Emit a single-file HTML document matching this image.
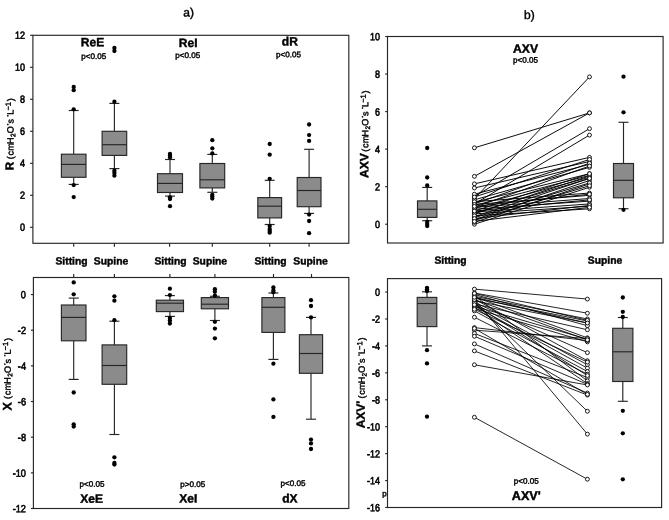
<!DOCTYPE html>
<html><head><meta charset="utf-8"><title>Figure</title>
<style>
html,body{margin:0;padding:0;background:#fff;}
svg{display:block;font-family:"Liberation Sans",sans-serif;fill:#000;}
text{stroke:#000;stroke-width:0.42px;text-rendering:geometricPrecision;}
</style></head><body>
<svg width="669" height="520" viewBox="0 0 669 520">
<rect x="0" y="0" width="669" height="520" fill="#fff"/>
<rect x="32.9" y="35.3" width="315.90000000000003" height="208.0" fill="none" stroke="#262626" stroke-width="1.15"/>
<rect x="33.4" y="277.5" width="315.40000000000003" height="231.0" fill="none" stroke="#262626" stroke-width="1.15"/>
<rect x="387.5" y="36.5" width="275.6" height="206.5" fill="none" stroke="#262626" stroke-width="1.15"/>
<rect x="387.5" y="278.6" width="274.1" height="228.89999999999998" fill="none" stroke="#262626" stroke-width="1.15"/>
<line x1="30.10" y1="227.30" x2="32.90" y2="227.30" stroke="#262626" stroke-width="1.15"/>
<text transform="translate(25.00,230.80) rotate(0.05) scale(0.94,1.08)" font-size="9.6" font-weight="normal" text-anchor="end" style="stroke-width:0.55px">0</text>
<line x1="30.10" y1="195.30" x2="32.90" y2="195.30" stroke="#262626" stroke-width="1.15"/>
<text transform="translate(25.00,198.80) rotate(0.05) scale(0.94,1.08)" font-size="9.6" font-weight="normal" text-anchor="end" style="stroke-width:0.55px">2</text>
<line x1="30.10" y1="163.30" x2="32.90" y2="163.30" stroke="#262626" stroke-width="1.15"/>
<text transform="translate(25.00,166.80) rotate(0.05) scale(0.94,1.08)" font-size="9.6" font-weight="normal" text-anchor="end" style="stroke-width:0.55px">4</text>
<line x1="30.10" y1="131.30" x2="32.90" y2="131.30" stroke="#262626" stroke-width="1.15"/>
<text transform="translate(25.00,134.80) rotate(0.05) scale(0.94,1.08)" font-size="9.6" font-weight="normal" text-anchor="end" style="stroke-width:0.55px">6</text>
<line x1="30.10" y1="99.30" x2="32.90" y2="99.30" stroke="#262626" stroke-width="1.15"/>
<text transform="translate(25.00,102.80) rotate(0.05) scale(0.94,1.08)" font-size="9.6" font-weight="normal" text-anchor="end" style="stroke-width:0.55px">8</text>
<line x1="30.10" y1="67.30" x2="32.90" y2="67.30" stroke="#262626" stroke-width="1.15"/>
<text transform="translate(25.00,70.80) rotate(0.05) scale(0.94,1.08)" font-size="9.6" font-weight="normal" text-anchor="end" style="stroke-width:0.55px">10</text>
<line x1="30.10" y1="35.30" x2="32.90" y2="35.30" stroke="#262626" stroke-width="1.15"/>
<text transform="translate(25.00,38.80) rotate(0.05) scale(0.94,1.08)" font-size="9.6" font-weight="normal" text-anchor="end" style="stroke-width:0.55px">12</text>
<line x1="30.90" y1="294.55" x2="33.40" y2="294.55" stroke="#262626" stroke-width="1.15"/>
<text transform="translate(26.00,298.35) rotate(0.05) scale(0.96,1.08)" font-size="9.6" font-weight="normal" text-anchor="end" style="stroke-width:0.55px">0</text>
<line x1="30.90" y1="330.21" x2="33.40" y2="330.21" stroke="#262626" stroke-width="1.15"/>
<text transform="translate(26.00,334.01) rotate(0.05) scale(0.96,1.08)" font-size="9.6" font-weight="normal" text-anchor="end" style="stroke-width:0.55px">-2</text>
<line x1="30.90" y1="365.87" x2="33.40" y2="365.87" stroke="#262626" stroke-width="1.15"/>
<text transform="translate(26.00,369.67) rotate(0.05) scale(0.96,1.08)" font-size="9.6" font-weight="normal" text-anchor="end" style="stroke-width:0.55px">-4</text>
<line x1="30.90" y1="401.53" x2="33.40" y2="401.53" stroke="#262626" stroke-width="1.15"/>
<text transform="translate(26.00,405.33) rotate(0.05) scale(0.96,1.08)" font-size="9.6" font-weight="normal" text-anchor="end" style="stroke-width:0.55px">-6</text>
<line x1="30.90" y1="437.19" x2="33.40" y2="437.19" stroke="#262626" stroke-width="1.15"/>
<text transform="translate(26.00,440.99) rotate(0.05) scale(0.96,1.08)" font-size="9.6" font-weight="normal" text-anchor="end" style="stroke-width:0.55px">-8</text>
<line x1="30.90" y1="472.85" x2="33.40" y2="472.85" stroke="#262626" stroke-width="1.15"/>
<text transform="translate(26.00,476.65) rotate(0.05) scale(0.96,1.08)" font-size="9.6" font-weight="normal" text-anchor="end" style="stroke-width:0.55px">-10</text>
<line x1="30.90" y1="508.51" x2="33.40" y2="508.51" stroke="#262626" stroke-width="1.15"/>
<text transform="translate(26.00,512.31) rotate(0.05) scale(0.96,1.08)" font-size="9.6" font-weight="normal" text-anchor="end" style="stroke-width:0.55px">-12</text>
<line x1="385.20" y1="224.23" x2="387.50" y2="224.23" stroke="#262626" stroke-width="1.15"/>
<text transform="translate(380.10,228.03) rotate(0.05) scale(0.94,1.08)" font-size="9.6" font-weight="normal" text-anchor="end" style="stroke-width:0.55px">0</text>
<line x1="385.20" y1="186.68" x2="387.50" y2="186.68" stroke="#262626" stroke-width="1.15"/>
<text transform="translate(380.10,190.48) rotate(0.05) scale(0.94,1.08)" font-size="9.6" font-weight="normal" text-anchor="end" style="stroke-width:0.55px">2</text>
<line x1="385.20" y1="149.14" x2="387.50" y2="149.14" stroke="#262626" stroke-width="1.15"/>
<text transform="translate(380.10,152.94) rotate(0.05) scale(0.94,1.08)" font-size="9.6" font-weight="normal" text-anchor="end" style="stroke-width:0.55px">4</text>
<line x1="385.20" y1="111.59" x2="387.50" y2="111.59" stroke="#262626" stroke-width="1.15"/>
<text transform="translate(380.10,115.39) rotate(0.05) scale(0.94,1.08)" font-size="9.6" font-weight="normal" text-anchor="end" style="stroke-width:0.55px">6</text>
<line x1="385.20" y1="74.05" x2="387.50" y2="74.05" stroke="#262626" stroke-width="1.15"/>
<text transform="translate(380.10,77.85) rotate(0.05) scale(0.94,1.08)" font-size="9.6" font-weight="normal" text-anchor="end" style="stroke-width:0.55px">8</text>
<line x1="385.20" y1="36.50" x2="387.50" y2="36.50" stroke="#262626" stroke-width="1.15"/>
<text transform="translate(380.10,40.30) rotate(0.05) scale(0.94,1.08)" font-size="9.6" font-weight="normal" text-anchor="end" style="stroke-width:0.55px">10</text>
<line x1="385.20" y1="292.06" x2="387.50" y2="292.06" stroke="#262626" stroke-width="1.15"/>
<text transform="translate(380.10,295.86) rotate(0.05) scale(0.94,1.08)" font-size="9.6" font-weight="normal" text-anchor="end" style="stroke-width:0.55px">0</text>
<line x1="385.20" y1="318.99" x2="387.50" y2="318.99" stroke="#262626" stroke-width="1.15"/>
<text transform="translate(380.10,322.79) rotate(0.05) scale(0.94,1.08)" font-size="9.6" font-weight="normal" text-anchor="end" style="stroke-width:0.55px">-2</text>
<line x1="385.20" y1="345.92" x2="387.50" y2="345.92" stroke="#262626" stroke-width="1.15"/>
<text transform="translate(380.10,349.72) rotate(0.05) scale(0.94,1.08)" font-size="9.6" font-weight="normal" text-anchor="end" style="stroke-width:0.55px">-4</text>
<line x1="385.20" y1="372.85" x2="387.50" y2="372.85" stroke="#262626" stroke-width="1.15"/>
<text transform="translate(380.10,376.65) rotate(0.05) scale(0.94,1.08)" font-size="9.6" font-weight="normal" text-anchor="end" style="stroke-width:0.55px">-6</text>
<line x1="385.20" y1="399.78" x2="387.50" y2="399.78" stroke="#262626" stroke-width="1.15"/>
<text transform="translate(380.10,403.58) rotate(0.05) scale(0.94,1.08)" font-size="9.6" font-weight="normal" text-anchor="end" style="stroke-width:0.55px">-8</text>
<line x1="385.20" y1="426.71" x2="387.50" y2="426.71" stroke="#262626" stroke-width="1.15"/>
<text transform="translate(380.10,430.51) rotate(0.05) scale(0.94,1.08)" font-size="9.6" font-weight="normal" text-anchor="end" style="stroke-width:0.55px">-10</text>
<line x1="385.20" y1="453.64" x2="387.50" y2="453.64" stroke="#262626" stroke-width="1.15"/>
<text transform="translate(380.10,457.44) rotate(0.05) scale(0.94,1.08)" font-size="9.6" font-weight="normal" text-anchor="end" style="stroke-width:0.55px">-12</text>
<line x1="385.20" y1="480.57" x2="387.50" y2="480.57" stroke="#262626" stroke-width="1.15"/>
<text transform="translate(380.10,484.37) rotate(0.05) scale(0.94,1.08)" font-size="9.6" font-weight="normal" text-anchor="end" style="stroke-width:0.55px">-14</text>
<line x1="385.20" y1="507.50" x2="387.50" y2="507.50" stroke="#262626" stroke-width="1.15"/>
<text transform="translate(380.10,511.30) rotate(0.05) scale(0.94,1.08)" font-size="9.6" font-weight="normal" text-anchor="end" style="stroke-width:0.55px">-16</text>
<line x1="73.70" y1="243.30" x2="73.70" y2="246.80" stroke="#262626" stroke-width="1.15"/>
<line x1="114.40" y1="243.30" x2="114.40" y2="246.80" stroke="#262626" stroke-width="1.15"/>
<line x1="169.60" y1="243.30" x2="169.60" y2="246.80" stroke="#262626" stroke-width="1.15"/>
<line x1="212.30" y1="243.30" x2="212.30" y2="246.80" stroke="#262626" stroke-width="1.15"/>
<line x1="269.70" y1="243.30" x2="269.70" y2="246.80" stroke="#262626" stroke-width="1.15"/>
<line x1="309.10" y1="243.30" x2="309.10" y2="246.80" stroke="#262626" stroke-width="1.15"/>
<line x1="73.70" y1="274.00" x2="73.70" y2="277.50" stroke="#262626" stroke-width="1.15"/>
<line x1="114.40" y1="274.00" x2="114.40" y2="277.50" stroke="#262626" stroke-width="1.15"/>
<line x1="169.90" y1="274.00" x2="169.90" y2="277.50" stroke="#262626" stroke-width="1.15"/>
<line x1="214.90" y1="274.00" x2="214.90" y2="277.50" stroke="#262626" stroke-width="1.15"/>
<line x1="273.50" y1="274.00" x2="273.50" y2="277.50" stroke="#262626" stroke-width="1.15"/>
<line x1="311.50" y1="274.00" x2="311.50" y2="277.50" stroke="#262626" stroke-width="1.15"/>
<line x1="73.70" y1="110.50" x2="73.70" y2="154.20" stroke="#262626" stroke-width="1.15"/>
<line x1="73.70" y1="177.30" x2="73.70" y2="184.40" stroke="#262626" stroke-width="1.15"/>
<line x1="68.70" y1="110.50" x2="78.70" y2="110.50" stroke="#262626" stroke-width="1.15"/>
<line x1="68.70" y1="184.40" x2="78.70" y2="184.40" stroke="#262626" stroke-width="1.15"/>
<rect x="61.40" y="154.20" width="24.60" height="23.10" fill="#8b8b8b" stroke="#262626" stroke-width="1.15"/>
<line x1="61.40" y1="164.40" x2="86.00" y2="164.40" stroke="#262626" stroke-width="1.15"/>
<circle cx="73.70" cy="109.30" r="2.15" fill="#000"/>
<circle cx="73.70" cy="90.20" r="2.15" fill="#000"/>
<circle cx="73.70" cy="86.90" r="2.15" fill="#000"/>
<circle cx="73.70" cy="185.10" r="2.15" fill="#000"/>
<circle cx="73.70" cy="197.10" r="2.15" fill="#000"/>
<line x1="114.40" y1="103.40" x2="114.40" y2="131.30" stroke="#262626" stroke-width="1.15"/>
<line x1="114.40" y1="155.40" x2="114.40" y2="168.60" stroke="#262626" stroke-width="1.15"/>
<line x1="109.40" y1="103.40" x2="119.40" y2="103.40" stroke="#262626" stroke-width="1.15"/>
<line x1="109.40" y1="168.60" x2="119.40" y2="168.60" stroke="#262626" stroke-width="1.15"/>
<rect x="102.10" y="131.30" width="24.60" height="24.10" fill="#8b8b8b" stroke="#262626" stroke-width="1.15"/>
<line x1="102.10" y1="144.70" x2="126.70" y2="144.70" stroke="#262626" stroke-width="1.15"/>
<circle cx="114.40" cy="101.70" r="2.15" fill="#000"/>
<circle cx="114.40" cy="51.00" r="2.15" fill="#000"/>
<circle cx="114.40" cy="48.00" r="2.15" fill="#000"/>
<circle cx="114.40" cy="170.70" r="2.15" fill="#000"/>
<circle cx="114.40" cy="173.00" r="2.15" fill="#000"/>
<circle cx="114.40" cy="175.70" r="2.15" fill="#000"/>
<line x1="170.00" y1="159.50" x2="170.00" y2="173.70" stroke="#262626" stroke-width="1.15"/>
<line x1="170.00" y1="192.50" x2="170.00" y2="196.10" stroke="#262626" stroke-width="1.15"/>
<line x1="165.00" y1="159.50" x2="175.00" y2="159.50" stroke="#262626" stroke-width="1.15"/>
<line x1="165.00" y1="196.10" x2="175.00" y2="196.10" stroke="#262626" stroke-width="1.15"/>
<rect x="157.50" y="173.70" width="25.00" height="18.80" fill="#8b8b8b" stroke="#262626" stroke-width="1.15"/>
<line x1="157.50" y1="183.40" x2="182.50" y2="183.40" stroke="#262626" stroke-width="1.15"/>
<circle cx="170.00" cy="157.50" r="2.15" fill="#000"/>
<circle cx="170.00" cy="155.60" r="2.15" fill="#000"/>
<circle cx="170.00" cy="154.00" r="2.15" fill="#000"/>
<circle cx="170.00" cy="197.30" r="2.15" fill="#000"/>
<circle cx="170.00" cy="199.10" r="2.15" fill="#000"/>
<circle cx="170.00" cy="206.20" r="2.15" fill="#000"/>
<line x1="212.30" y1="154.40" x2="212.30" y2="163.50" stroke="#262626" stroke-width="1.15"/>
<line x1="212.30" y1="187.90" x2="212.30" y2="192.30" stroke="#262626" stroke-width="1.15"/>
<line x1="207.30" y1="154.40" x2="217.30" y2="154.40" stroke="#262626" stroke-width="1.15"/>
<line x1="207.30" y1="192.30" x2="217.30" y2="192.30" stroke="#262626" stroke-width="1.15"/>
<rect x="199.90" y="163.50" width="24.80" height="24.40" fill="#8b8b8b" stroke="#262626" stroke-width="1.15"/>
<line x1="199.90" y1="179.80" x2="224.70" y2="179.80" stroke="#262626" stroke-width="1.15"/>
<circle cx="212.30" cy="153.40" r="2.15" fill="#000"/>
<circle cx="212.30" cy="148.30" r="2.15" fill="#000"/>
<circle cx="212.30" cy="140.20" r="2.15" fill="#000"/>
<circle cx="212.30" cy="194.80" r="2.15" fill="#000"/>
<circle cx="212.30" cy="196.60" r="2.15" fill="#000"/>
<circle cx="212.30" cy="198.60" r="2.15" fill="#000"/>
<line x1="269.70" y1="180.30" x2="269.70" y2="197.60" stroke="#262626" stroke-width="1.15"/>
<line x1="269.70" y1="217.90" x2="269.70" y2="224.50" stroke="#262626" stroke-width="1.15"/>
<line x1="264.70" y1="180.30" x2="274.70" y2="180.30" stroke="#262626" stroke-width="1.15"/>
<line x1="264.70" y1="224.50" x2="274.70" y2="224.50" stroke="#262626" stroke-width="1.15"/>
<rect x="257.80" y="197.60" width="23.80" height="20.30" fill="#8b8b8b" stroke="#262626" stroke-width="1.15"/>
<line x1="257.80" y1="206.20" x2="281.60" y2="206.20" stroke="#262626" stroke-width="1.15"/>
<circle cx="269.70" cy="178.80" r="2.15" fill="#000"/>
<circle cx="269.70" cy="154.70" r="2.15" fill="#000"/>
<circle cx="269.70" cy="144.00" r="2.15" fill="#000"/>
<circle cx="269.70" cy="226.00" r="2.15" fill="#000"/>
<circle cx="269.70" cy="229.10" r="2.15" fill="#000"/>
<circle cx="269.70" cy="230.90" r="2.15" fill="#000"/>
<circle cx="269.70" cy="232.70" r="2.15" fill="#000"/>
<line x1="309.10" y1="149.30" x2="309.10" y2="177.50" stroke="#262626" stroke-width="1.15"/>
<line x1="309.10" y1="206.70" x2="309.10" y2="213.40" stroke="#262626" stroke-width="1.15"/>
<line x1="304.10" y1="149.30" x2="314.10" y2="149.30" stroke="#262626" stroke-width="1.15"/>
<line x1="304.10" y1="213.40" x2="314.10" y2="213.40" stroke="#262626" stroke-width="1.15"/>
<rect x="297.20" y="177.50" width="23.80" height="29.20" fill="#8b8b8b" stroke="#262626" stroke-width="1.15"/>
<line x1="297.20" y1="190.50" x2="321.00" y2="190.50" stroke="#262626" stroke-width="1.15"/>
<circle cx="309.10" cy="140.90" r="2.15" fill="#000"/>
<circle cx="309.10" cy="135.10" r="2.15" fill="#000"/>
<circle cx="309.10" cy="124.50" r="2.15" fill="#000"/>
<circle cx="309.10" cy="214.60" r="2.15" fill="#000"/>
<circle cx="309.10" cy="221.00" r="2.15" fill="#000"/>
<circle cx="309.10" cy="233.20" r="2.15" fill="#000"/>
<line x1="73.70" y1="298.10" x2="73.70" y2="305.00" stroke="#262626" stroke-width="1.15"/>
<line x1="73.70" y1="340.80" x2="73.70" y2="379.40" stroke="#262626" stroke-width="1.15"/>
<line x1="68.70" y1="298.10" x2="78.70" y2="298.10" stroke="#262626" stroke-width="1.15"/>
<line x1="68.70" y1="379.40" x2="78.70" y2="379.40" stroke="#262626" stroke-width="1.15"/>
<rect x="61.40" y="305.00" width="24.60" height="35.80" fill="#8b8b8b" stroke="#262626" stroke-width="1.15"/>
<line x1="61.40" y1="317.40" x2="86.00" y2="317.40" stroke="#262626" stroke-width="1.15"/>
<circle cx="73.70" cy="294.30" r="2.15" fill="#000"/>
<circle cx="73.70" cy="282.40" r="2.15" fill="#000"/>
<circle cx="73.70" cy="392.50" r="2.15" fill="#000"/>
<circle cx="73.70" cy="424.30" r="2.15" fill="#000"/>
<circle cx="73.70" cy="426.60" r="2.15" fill="#000"/>
<line x1="114.40" y1="321.20" x2="114.40" y2="344.90" stroke="#262626" stroke-width="1.15"/>
<line x1="114.40" y1="384.30" x2="114.40" y2="434.50" stroke="#262626" stroke-width="1.15"/>
<line x1="109.40" y1="321.20" x2="119.40" y2="321.20" stroke="#262626" stroke-width="1.15"/>
<line x1="109.40" y1="434.50" x2="119.40" y2="434.50" stroke="#262626" stroke-width="1.15"/>
<rect x="102.10" y="344.90" width="24.60" height="39.40" fill="#8b8b8b" stroke="#262626" stroke-width="1.15"/>
<line x1="102.10" y1="365.50" x2="126.70" y2="365.50" stroke="#262626" stroke-width="1.15"/>
<circle cx="114.40" cy="320.20" r="2.15" fill="#000"/>
<circle cx="114.40" cy="300.70" r="2.15" fill="#000"/>
<circle cx="114.40" cy="296.30" r="2.15" fill="#000"/>
<circle cx="114.40" cy="457.30" r="2.15" fill="#000"/>
<circle cx="114.40" cy="462.90" r="2.15" fill="#000"/>
<circle cx="114.40" cy="464.50" r="2.15" fill="#000"/>
<line x1="169.90" y1="295.60" x2="169.90" y2="300.20" stroke="#262626" stroke-width="1.15"/>
<line x1="169.90" y1="311.60" x2="169.90" y2="316.40" stroke="#262626" stroke-width="1.15"/>
<line x1="164.90" y1="295.60" x2="174.90" y2="295.60" stroke="#262626" stroke-width="1.15"/>
<line x1="164.90" y1="316.40" x2="174.90" y2="316.40" stroke="#262626" stroke-width="1.15"/>
<rect x="156.30" y="300.20" width="27.20" height="11.40" fill="#8b8b8b" stroke="#262626" stroke-width="1.15"/>
<line x1="156.30" y1="303.20" x2="183.50" y2="303.20" stroke="#262626" stroke-width="1.15"/>
<circle cx="169.90" cy="295.10" r="2.15" fill="#000"/>
<circle cx="169.90" cy="288.70" r="2.15" fill="#000"/>
<circle cx="169.90" cy="317.90" r="2.15" fill="#000"/>
<circle cx="169.90" cy="320.50" r="2.15" fill="#000"/>
<circle cx="169.90" cy="323.50" r="2.15" fill="#000"/>
<line x1="214.90" y1="296.30" x2="214.90" y2="297.60" stroke="#262626" stroke-width="1.15"/>
<line x1="214.90" y1="308.80" x2="214.90" y2="320.50" stroke="#262626" stroke-width="1.15"/>
<line x1="209.90" y1="296.30" x2="219.90" y2="296.30" stroke="#262626" stroke-width="1.15"/>
<line x1="209.90" y1="320.50" x2="219.90" y2="320.50" stroke="#262626" stroke-width="1.15"/>
<rect x="201.30" y="297.60" width="27.20" height="11.20" fill="#8b8b8b" stroke="#262626" stroke-width="1.15"/>
<line x1="201.30" y1="304.20" x2="228.50" y2="304.20" stroke="#262626" stroke-width="1.15"/>
<circle cx="214.90" cy="295.60" r="2.15" fill="#000"/>
<circle cx="214.90" cy="291.80" r="2.15" fill="#000"/>
<circle cx="214.90" cy="289.20" r="2.15" fill="#000"/>
<circle cx="214.90" cy="321.80" r="2.15" fill="#000"/>
<circle cx="214.90" cy="328.60" r="2.15" fill="#000"/>
<circle cx="214.90" cy="338.30" r="2.15" fill="#000"/>
<line x1="273.40" y1="293.00" x2="273.40" y2="297.60" stroke="#262626" stroke-width="1.15"/>
<line x1="273.40" y1="332.40" x2="273.40" y2="359.40" stroke="#262626" stroke-width="1.15"/>
<line x1="268.40" y1="293.00" x2="278.40" y2="293.00" stroke="#262626" stroke-width="1.15"/>
<line x1="268.40" y1="359.40" x2="278.40" y2="359.40" stroke="#262626" stroke-width="1.15"/>
<rect x="261.90" y="297.60" width="23.00" height="34.80" fill="#8b8b8b" stroke="#262626" stroke-width="1.15"/>
<line x1="261.90" y1="307.30" x2="284.90" y2="307.30" stroke="#262626" stroke-width="1.15"/>
<circle cx="273.40" cy="292.30" r="2.15" fill="#000"/>
<circle cx="273.40" cy="290.50" r="2.15" fill="#000"/>
<circle cx="273.40" cy="287.40" r="2.15" fill="#000"/>
<circle cx="273.40" cy="363.70" r="2.15" fill="#000"/>
<circle cx="273.40" cy="399.40" r="2.15" fill="#000"/>
<circle cx="273.40" cy="416.90" r="2.15" fill="#000"/>
<line x1="311.00" y1="317.40" x2="311.00" y2="334.70" stroke="#262626" stroke-width="1.15"/>
<line x1="311.00" y1="373.30" x2="311.00" y2="419.20" stroke="#262626" stroke-width="1.15"/>
<line x1="306.00" y1="317.40" x2="316.00" y2="317.40" stroke="#262626" stroke-width="1.15"/>
<line x1="306.00" y1="419.20" x2="316.00" y2="419.20" stroke="#262626" stroke-width="1.15"/>
<rect x="299.40" y="334.70" width="23.20" height="38.60" fill="#8b8b8b" stroke="#262626" stroke-width="1.15"/>
<line x1="299.40" y1="353.50" x2="322.60" y2="353.50" stroke="#262626" stroke-width="1.15"/>
<circle cx="311.00" cy="317.40" r="2.15" fill="#000"/>
<circle cx="311.00" cy="306.00" r="2.15" fill="#000"/>
<circle cx="311.00" cy="300.20" r="2.15" fill="#000"/>
<circle cx="311.00" cy="439.60" r="2.15" fill="#000"/>
<circle cx="311.00" cy="443.40" r="2.15" fill="#000"/>
<circle cx="311.00" cy="449.00" r="2.15" fill="#000"/>
<line x1="427.20" y1="187.40" x2="427.20" y2="200.90" stroke="#262626" stroke-width="1.15"/>
<line x1="427.20" y1="217.40" x2="427.20" y2="220.70" stroke="#262626" stroke-width="1.15"/>
<line x1="422.20" y1="187.40" x2="432.20" y2="187.40" stroke="#262626" stroke-width="1.15"/>
<line x1="422.20" y1="220.70" x2="432.20" y2="220.70" stroke="#262626" stroke-width="1.15"/>
<rect x="417.50" y="200.90" width="19.40" height="16.50" fill="#8b8b8b" stroke="#262626" stroke-width="1.15"/>
<line x1="417.50" y1="209.30" x2="436.90" y2="209.30" stroke="#262626" stroke-width="1.15"/>
<circle cx="427.20" cy="185.40" r="2.15" fill="#000"/>
<circle cx="427.20" cy="177.50" r="2.15" fill="#000"/>
<circle cx="427.20" cy="148.00" r="2.15" fill="#000"/>
<circle cx="427.20" cy="222.00" r="2.15" fill="#000"/>
<circle cx="427.20" cy="224.00" r="2.15" fill="#000"/>
<circle cx="427.20" cy="226.00" r="2.15" fill="#000"/>
<line x1="623.50" y1="122.30" x2="623.50" y2="163.50" stroke="#262626" stroke-width="1.15"/>
<line x1="623.50" y1="197.80" x2="623.50" y2="208.70" stroke="#262626" stroke-width="1.15"/>
<line x1="618.50" y1="122.30" x2="628.50" y2="122.30" stroke="#262626" stroke-width="1.15"/>
<line x1="618.50" y1="208.70" x2="628.50" y2="208.70" stroke="#262626" stroke-width="1.15"/>
<rect x="613.50" y="163.50" width="20.00" height="34.30" fill="#8b8b8b" stroke="#262626" stroke-width="1.15"/>
<line x1="613.50" y1="180.30" x2="633.50" y2="180.30" stroke="#262626" stroke-width="1.15"/>
<circle cx="623.50" cy="112.30" r="2.15" fill="#000"/>
<circle cx="623.50" cy="76.70" r="2.15" fill="#000"/>
<circle cx="623.50" cy="209.80" r="2.15" fill="#000"/>
<line x1="427.00" y1="291.80" x2="427.00" y2="297.40" stroke="#262626" stroke-width="1.15"/>
<line x1="427.00" y1="326.60" x2="427.00" y2="345.90" stroke="#262626" stroke-width="1.15"/>
<line x1="422.00" y1="291.80" x2="432.00" y2="291.80" stroke="#262626" stroke-width="1.15"/>
<line x1="422.00" y1="345.90" x2="432.00" y2="345.90" stroke="#262626" stroke-width="1.15"/>
<rect x="417.20" y="297.40" width="19.60" height="29.20" fill="#8b8b8b" stroke="#262626" stroke-width="1.15"/>
<line x1="417.20" y1="303.50" x2="436.80" y2="303.50" stroke="#262626" stroke-width="1.15"/>
<circle cx="427.00" cy="291.00" r="2.15" fill="#000"/>
<circle cx="427.00" cy="289.30" r="2.15" fill="#000"/>
<circle cx="427.00" cy="287.80" r="2.15" fill="#000"/>
<circle cx="427.00" cy="350.20" r="2.15" fill="#000"/>
<circle cx="427.00" cy="363.40" r="2.15" fill="#000"/>
<circle cx="427.00" cy="416.70" r="2.15" fill="#000"/>
<line x1="622.80" y1="317.50" x2="622.80" y2="328.30" stroke="#262626" stroke-width="1.15"/>
<line x1="622.80" y1="381.50" x2="622.80" y2="401.30" stroke="#262626" stroke-width="1.15"/>
<line x1="617.80" y1="317.50" x2="627.80" y2="317.50" stroke="#262626" stroke-width="1.15"/>
<line x1="617.80" y1="401.30" x2="627.80" y2="401.30" stroke="#262626" stroke-width="1.15"/>
<rect x="612.70" y="328.30" width="20.20" height="53.20" fill="#8b8b8b" stroke="#262626" stroke-width="1.15"/>
<line x1="612.70" y1="351.80" x2="632.90" y2="351.80" stroke="#262626" stroke-width="1.15"/>
<circle cx="622.80" cy="317.00" r="2.15" fill="#000"/>
<circle cx="622.80" cy="311.80" r="2.15" fill="#000"/>
<circle cx="622.80" cy="297.50" r="2.15" fill="#000"/>
<circle cx="622.80" cy="410.80" r="2.15" fill="#000"/>
<circle cx="622.80" cy="433.30" r="2.15" fill="#000"/>
<circle cx="622.80" cy="479.30" r="2.15" fill="#000"/>
<line x1="474.40" y1="147.82" x2="589.50" y2="112.91" stroke="#000" stroke-width="0.95"/>
<line x1="474.40" y1="176.36" x2="589.50" y2="112.91" stroke="#000" stroke-width="0.95"/>
<line x1="474.40" y1="198.70" x2="589.50" y2="76.86" stroke="#000" stroke-width="0.95"/>
<line x1="474.40" y1="196.44" x2="589.50" y2="128.67" stroke="#000" stroke-width="0.95"/>
<line x1="474.40" y1="203.95" x2="589.50" y2="135.06" stroke="#000" stroke-width="0.95"/>
<line x1="474.40" y1="183.87" x2="589.50" y2="157.40" stroke="#000" stroke-width="0.95"/>
<line x1="474.40" y1="188.00" x2="589.50" y2="161.53" stroke="#000" stroke-width="0.95"/>
<line x1="474.40" y1="194.19" x2="589.50" y2="164.34" stroke="#000" stroke-width="0.95"/>
<line x1="474.40" y1="199.82" x2="589.50" y2="167.35" stroke="#000" stroke-width="0.95"/>
<line x1="474.40" y1="197.01" x2="589.50" y2="159.46" stroke="#000" stroke-width="0.95"/>
<line x1="474.40" y1="203.95" x2="589.50" y2="163.22" stroke="#000" stroke-width="0.95"/>
<line x1="474.40" y1="207.33" x2="589.50" y2="166.03" stroke="#000" stroke-width="0.95"/>
<line x1="474.40" y1="224.23" x2="589.50" y2="187.25" stroke="#000" stroke-width="0.95"/>
<line x1="474.40" y1="222.35" x2="589.50" y2="183.87" stroke="#000" stroke-width="0.95"/>
<line x1="474.40" y1="219.72" x2="589.50" y2="180.49" stroke="#000" stroke-width="0.95"/>
<line x1="474.40" y1="216.72" x2="589.50" y2="178.42" stroke="#000" stroke-width="0.95"/>
<line x1="474.40" y1="213.90" x2="589.50" y2="175.98" stroke="#000" stroke-width="0.95"/>
<line x1="474.40" y1="211.09" x2="589.50" y2="173.73" stroke="#000" stroke-width="0.95"/>
<line x1="474.40" y1="208.46" x2="589.50" y2="177.30" stroke="#000" stroke-width="0.95"/>
<line x1="474.40" y1="205.45" x2="589.50" y2="175.42" stroke="#000" stroke-width="0.95"/>
<line x1="474.40" y1="202.08" x2="589.50" y2="173.73" stroke="#000" stroke-width="0.95"/>
<line x1="474.40" y1="217.66" x2="589.50" y2="182.93" stroke="#000" stroke-width="0.95"/>
<line x1="474.40" y1="220.47" x2="589.50" y2="185.74" stroke="#000" stroke-width="0.95"/>
<line x1="474.40" y1="212.96" x2="589.50" y2="178.42" stroke="#000" stroke-width="0.95"/>
<line x1="474.40" y1="201.70" x2="589.50" y2="193.06" stroke="#000" stroke-width="0.95"/>
<line x1="474.40" y1="204.52" x2="589.50" y2="195.32" stroke="#000" stroke-width="0.95"/>
<line x1="474.40" y1="207.33" x2="589.50" y2="198.51" stroke="#000" stroke-width="0.95"/>
<line x1="474.40" y1="209.21" x2="589.50" y2="201.14" stroke="#000" stroke-width="0.95"/>
<line x1="474.40" y1="212.03" x2="589.50" y2="203.95" stroke="#000" stroke-width="0.95"/>
<line x1="474.40" y1="213.90" x2="589.50" y2="206.21" stroke="#000" stroke-width="0.95"/>
<line x1="474.40" y1="215.78" x2="589.50" y2="208.83" stroke="#000" stroke-width="0.95"/>
<line x1="474.40" y1="206.39" x2="589.50" y2="194.19" stroke="#000" stroke-width="0.95"/>
<line x1="474.40" y1="211.09" x2="589.50" y2="199.82" stroke="#000" stroke-width="0.95"/>
<line x1="474.40" y1="218.60" x2="589.50" y2="205.45" stroke="#000" stroke-width="0.95"/>
<line x1="474.40" y1="221.41" x2="589.50" y2="207.33" stroke="#000" stroke-width="0.95"/>
<line x1="474.40" y1="289.10" x2="587.40" y2="299.07" stroke="#000" stroke-width="0.85"/>
<line x1="474.40" y1="293.01" x2="587.40" y2="313.20" stroke="#000" stroke-width="0.85"/>
<line x1="474.40" y1="296.24" x2="587.40" y2="318.99" stroke="#000" stroke-width="0.85"/>
<line x1="474.40" y1="298.12" x2="587.40" y2="321.01" stroke="#000" stroke-width="0.85"/>
<line x1="474.40" y1="300.82" x2="587.40" y2="323.03" stroke="#000" stroke-width="0.85"/>
<line x1="474.40" y1="294.49" x2="587.40" y2="325.73" stroke="#000" stroke-width="0.85"/>
<line x1="474.40" y1="303.91" x2="587.40" y2="329.77" stroke="#000" stroke-width="0.85"/>
<line x1="474.40" y1="296.78" x2="587.40" y2="337.84" stroke="#000" stroke-width="0.85"/>
<line x1="474.40" y1="306.20" x2="587.40" y2="339.19" stroke="#000" stroke-width="0.85"/>
<line x1="474.40" y1="308.49" x2="587.40" y2="341.88" stroke="#000" stroke-width="0.85"/>
<line x1="474.40" y1="327.61" x2="587.40" y2="340.54" stroke="#000" stroke-width="0.85"/>
<line x1="474.40" y1="330.17" x2="587.40" y2="338.52" stroke="#000" stroke-width="0.85"/>
<line x1="474.40" y1="302.43" x2="587.40" y2="352.66" stroke="#000" stroke-width="0.85"/>
<line x1="474.40" y1="299.07" x2="587.40" y2="360.73" stroke="#000" stroke-width="0.85"/>
<line x1="474.40" y1="303.64" x2="587.40" y2="364.77" stroke="#000" stroke-width="0.85"/>
<line x1="474.40" y1="305.93" x2="587.40" y2="368.14" stroke="#000" stroke-width="0.85"/>
<line x1="474.40" y1="310.92" x2="587.40" y2="371.51" stroke="#000" stroke-width="0.85"/>
<line x1="474.40" y1="317.24" x2="587.40" y2="374.20" stroke="#000" stroke-width="0.85"/>
<line x1="474.40" y1="333.40" x2="587.40" y2="377.57" stroke="#000" stroke-width="0.85"/>
<line x1="474.40" y1="295.57" x2="587.40" y2="380.93" stroke="#000" stroke-width="0.85"/>
<line x1="474.40" y1="307.01" x2="587.40" y2="383.62" stroke="#000" stroke-width="0.85"/>
<line x1="474.40" y1="336.23" x2="587.40" y2="384.30" stroke="#000" stroke-width="0.85"/>
<line x1="474.40" y1="343.90" x2="587.40" y2="393.05" stroke="#000" stroke-width="0.85"/>
<line x1="474.40" y1="350.91" x2="587.40" y2="395.07" stroke="#000" stroke-width="0.85"/>
<line x1="474.40" y1="364.77" x2="587.40" y2="384.97" stroke="#000" stroke-width="0.85"/>
<line x1="474.40" y1="302.43" x2="587.40" y2="411.23" stroke="#000" stroke-width="0.85"/>
<line x1="474.40" y1="299.07" x2="587.40" y2="434.12" stroke="#000" stroke-width="0.85"/>
<line x1="474.40" y1="417.29" x2="587.40" y2="479.22" stroke="#000" stroke-width="0.85"/>
<line x1="474.40" y1="293.41" x2="587.40" y2="320.34" stroke="#000" stroke-width="0.85"/>
<line x1="474.40" y1="299.60" x2="587.40" y2="339.86" stroke="#000" stroke-width="0.85"/>
<line x1="474.40" y1="309.30" x2="587.40" y2="362.08" stroke="#000" stroke-width="0.85"/>
<line x1="474.40" y1="297.32" x2="587.40" y2="323.03" stroke="#000" stroke-width="0.85"/>
<line x1="474.40" y1="328.42" x2="587.40" y2="394.40" stroke="#000" stroke-width="0.85"/>
<line x1="474.40" y1="304.72" x2="587.40" y2="375.55" stroke="#000" stroke-width="0.85"/>
<circle cx="474.40" cy="147.82" r="1.95" fill="#fff" stroke="#000" stroke-width="0.9"/>
<circle cx="589.50" cy="112.91" r="1.95" fill="#fff" stroke="#000" stroke-width="0.9"/>
<circle cx="474.40" cy="176.36" r="1.95" fill="#fff" stroke="#000" stroke-width="0.9"/>
<circle cx="589.50" cy="112.91" r="1.95" fill="#fff" stroke="#000" stroke-width="0.9"/>
<circle cx="474.40" cy="198.70" r="1.95" fill="#fff" stroke="#000" stroke-width="0.9"/>
<circle cx="589.50" cy="76.86" r="1.95" fill="#fff" stroke="#000" stroke-width="0.9"/>
<circle cx="474.40" cy="196.44" r="1.95" fill="#fff" stroke="#000" stroke-width="0.9"/>
<circle cx="589.50" cy="128.67" r="1.95" fill="#fff" stroke="#000" stroke-width="0.9"/>
<circle cx="474.40" cy="203.95" r="1.95" fill="#fff" stroke="#000" stroke-width="0.9"/>
<circle cx="589.50" cy="135.06" r="1.95" fill="#fff" stroke="#000" stroke-width="0.9"/>
<circle cx="474.40" cy="183.87" r="1.95" fill="#fff" stroke="#000" stroke-width="0.9"/>
<circle cx="589.50" cy="157.40" r="1.95" fill="#fff" stroke="#000" stroke-width="0.9"/>
<circle cx="474.40" cy="188.00" r="1.95" fill="#fff" stroke="#000" stroke-width="0.9"/>
<circle cx="589.50" cy="161.53" r="1.95" fill="#fff" stroke="#000" stroke-width="0.9"/>
<circle cx="474.40" cy="194.19" r="1.95" fill="#fff" stroke="#000" stroke-width="0.9"/>
<circle cx="589.50" cy="164.34" r="1.95" fill="#fff" stroke="#000" stroke-width="0.9"/>
<circle cx="474.40" cy="199.82" r="1.95" fill="#fff" stroke="#000" stroke-width="0.9"/>
<circle cx="589.50" cy="167.35" r="1.95" fill="#fff" stroke="#000" stroke-width="0.9"/>
<circle cx="474.40" cy="197.01" r="1.95" fill="#fff" stroke="#000" stroke-width="0.9"/>
<circle cx="589.50" cy="159.46" r="1.95" fill="#fff" stroke="#000" stroke-width="0.9"/>
<circle cx="474.40" cy="203.95" r="1.95" fill="#fff" stroke="#000" stroke-width="0.9"/>
<circle cx="589.50" cy="163.22" r="1.95" fill="#fff" stroke="#000" stroke-width="0.9"/>
<circle cx="474.40" cy="207.33" r="1.95" fill="#fff" stroke="#000" stroke-width="0.9"/>
<circle cx="589.50" cy="166.03" r="1.95" fill="#fff" stroke="#000" stroke-width="0.9"/>
<circle cx="474.40" cy="224.23" r="1.95" fill="#fff" stroke="#000" stroke-width="0.9"/>
<circle cx="589.50" cy="187.25" r="1.95" fill="#fff" stroke="#000" stroke-width="0.9"/>
<circle cx="474.40" cy="222.35" r="1.95" fill="#fff" stroke="#000" stroke-width="0.9"/>
<circle cx="589.50" cy="183.87" r="1.95" fill="#fff" stroke="#000" stroke-width="0.9"/>
<circle cx="474.40" cy="219.72" r="1.95" fill="#fff" stroke="#000" stroke-width="0.9"/>
<circle cx="589.50" cy="180.49" r="1.95" fill="#fff" stroke="#000" stroke-width="0.9"/>
<circle cx="474.40" cy="216.72" r="1.95" fill="#fff" stroke="#000" stroke-width="0.9"/>
<circle cx="589.50" cy="178.42" r="1.95" fill="#fff" stroke="#000" stroke-width="0.9"/>
<circle cx="474.40" cy="213.90" r="1.95" fill="#fff" stroke="#000" stroke-width="0.9"/>
<circle cx="589.50" cy="175.98" r="1.95" fill="#fff" stroke="#000" stroke-width="0.9"/>
<circle cx="474.40" cy="211.09" r="1.95" fill="#fff" stroke="#000" stroke-width="0.9"/>
<circle cx="589.50" cy="173.73" r="1.95" fill="#fff" stroke="#000" stroke-width="0.9"/>
<circle cx="474.40" cy="208.46" r="1.95" fill="#fff" stroke="#000" stroke-width="0.9"/>
<circle cx="589.50" cy="177.30" r="1.95" fill="#fff" stroke="#000" stroke-width="0.9"/>
<circle cx="474.40" cy="205.45" r="1.95" fill="#fff" stroke="#000" stroke-width="0.9"/>
<circle cx="589.50" cy="175.42" r="1.95" fill="#fff" stroke="#000" stroke-width="0.9"/>
<circle cx="474.40" cy="202.08" r="1.95" fill="#fff" stroke="#000" stroke-width="0.9"/>
<circle cx="589.50" cy="173.73" r="1.95" fill="#fff" stroke="#000" stroke-width="0.9"/>
<circle cx="474.40" cy="217.66" r="1.95" fill="#fff" stroke="#000" stroke-width="0.9"/>
<circle cx="589.50" cy="182.93" r="1.95" fill="#fff" stroke="#000" stroke-width="0.9"/>
<circle cx="474.40" cy="220.47" r="1.95" fill="#fff" stroke="#000" stroke-width="0.9"/>
<circle cx="589.50" cy="185.74" r="1.95" fill="#fff" stroke="#000" stroke-width="0.9"/>
<circle cx="474.40" cy="212.96" r="1.95" fill="#fff" stroke="#000" stroke-width="0.9"/>
<circle cx="589.50" cy="178.42" r="1.95" fill="#fff" stroke="#000" stroke-width="0.9"/>
<circle cx="474.40" cy="201.70" r="1.95" fill="#fff" stroke="#000" stroke-width="0.9"/>
<circle cx="589.50" cy="193.06" r="1.95" fill="#fff" stroke="#000" stroke-width="0.9"/>
<circle cx="474.40" cy="204.52" r="1.95" fill="#fff" stroke="#000" stroke-width="0.9"/>
<circle cx="589.50" cy="195.32" r="1.95" fill="#fff" stroke="#000" stroke-width="0.9"/>
<circle cx="474.40" cy="207.33" r="1.95" fill="#fff" stroke="#000" stroke-width="0.9"/>
<circle cx="589.50" cy="198.51" r="1.95" fill="#fff" stroke="#000" stroke-width="0.9"/>
<circle cx="474.40" cy="209.21" r="1.95" fill="#fff" stroke="#000" stroke-width="0.9"/>
<circle cx="589.50" cy="201.14" r="1.95" fill="#fff" stroke="#000" stroke-width="0.9"/>
<circle cx="474.40" cy="212.03" r="1.95" fill="#fff" stroke="#000" stroke-width="0.9"/>
<circle cx="589.50" cy="203.95" r="1.95" fill="#fff" stroke="#000" stroke-width="0.9"/>
<circle cx="474.40" cy="213.90" r="1.95" fill="#fff" stroke="#000" stroke-width="0.9"/>
<circle cx="589.50" cy="206.21" r="1.95" fill="#fff" stroke="#000" stroke-width="0.9"/>
<circle cx="474.40" cy="215.78" r="1.95" fill="#fff" stroke="#000" stroke-width="0.9"/>
<circle cx="589.50" cy="208.83" r="1.95" fill="#fff" stroke="#000" stroke-width="0.9"/>
<circle cx="474.40" cy="206.39" r="1.95" fill="#fff" stroke="#000" stroke-width="0.9"/>
<circle cx="589.50" cy="194.19" r="1.95" fill="#fff" stroke="#000" stroke-width="0.9"/>
<circle cx="474.40" cy="211.09" r="1.95" fill="#fff" stroke="#000" stroke-width="0.9"/>
<circle cx="589.50" cy="199.82" r="1.95" fill="#fff" stroke="#000" stroke-width="0.9"/>
<circle cx="474.40" cy="218.60" r="1.95" fill="#fff" stroke="#000" stroke-width="0.9"/>
<circle cx="589.50" cy="205.45" r="1.95" fill="#fff" stroke="#000" stroke-width="0.9"/>
<circle cx="474.40" cy="221.41" r="1.95" fill="#fff" stroke="#000" stroke-width="0.9"/>
<circle cx="589.50" cy="207.33" r="1.95" fill="#fff" stroke="#000" stroke-width="0.9"/>
<circle cx="474.40" cy="289.10" r="1.95" fill="#fff" stroke="#000" stroke-width="0.9"/>
<circle cx="587.40" cy="299.07" r="1.95" fill="#fff" stroke="#000" stroke-width="0.9"/>
<circle cx="474.40" cy="293.01" r="1.95" fill="#fff" stroke="#000" stroke-width="0.9"/>
<circle cx="587.40" cy="313.20" r="1.95" fill="#fff" stroke="#000" stroke-width="0.9"/>
<circle cx="474.40" cy="296.24" r="1.95" fill="#fff" stroke="#000" stroke-width="0.9"/>
<circle cx="587.40" cy="318.99" r="1.95" fill="#fff" stroke="#000" stroke-width="0.9"/>
<circle cx="474.40" cy="298.12" r="1.95" fill="#fff" stroke="#000" stroke-width="0.9"/>
<circle cx="587.40" cy="321.01" r="1.95" fill="#fff" stroke="#000" stroke-width="0.9"/>
<circle cx="474.40" cy="300.82" r="1.95" fill="#fff" stroke="#000" stroke-width="0.9"/>
<circle cx="587.40" cy="323.03" r="1.95" fill="#fff" stroke="#000" stroke-width="0.9"/>
<circle cx="474.40" cy="294.49" r="1.95" fill="#fff" stroke="#000" stroke-width="0.9"/>
<circle cx="587.40" cy="325.73" r="1.95" fill="#fff" stroke="#000" stroke-width="0.9"/>
<circle cx="474.40" cy="303.91" r="1.95" fill="#fff" stroke="#000" stroke-width="0.9"/>
<circle cx="587.40" cy="329.77" r="1.95" fill="#fff" stroke="#000" stroke-width="0.9"/>
<circle cx="474.40" cy="296.78" r="1.95" fill="#fff" stroke="#000" stroke-width="0.9"/>
<circle cx="587.40" cy="337.84" r="1.95" fill="#fff" stroke="#000" stroke-width="0.9"/>
<circle cx="474.40" cy="306.20" r="1.95" fill="#fff" stroke="#000" stroke-width="0.9"/>
<circle cx="587.40" cy="339.19" r="1.95" fill="#fff" stroke="#000" stroke-width="0.9"/>
<circle cx="474.40" cy="308.49" r="1.95" fill="#fff" stroke="#000" stroke-width="0.9"/>
<circle cx="587.40" cy="341.88" r="1.95" fill="#fff" stroke="#000" stroke-width="0.9"/>
<circle cx="474.40" cy="327.61" r="1.95" fill="#fff" stroke="#000" stroke-width="0.9"/>
<circle cx="587.40" cy="340.54" r="1.95" fill="#fff" stroke="#000" stroke-width="0.9"/>
<circle cx="474.40" cy="330.17" r="1.95" fill="#fff" stroke="#000" stroke-width="0.9"/>
<circle cx="587.40" cy="338.52" r="1.95" fill="#fff" stroke="#000" stroke-width="0.9"/>
<circle cx="474.40" cy="302.43" r="1.95" fill="#fff" stroke="#000" stroke-width="0.9"/>
<circle cx="587.40" cy="352.66" r="1.95" fill="#fff" stroke="#000" stroke-width="0.9"/>
<circle cx="474.40" cy="299.07" r="1.95" fill="#fff" stroke="#000" stroke-width="0.9"/>
<circle cx="587.40" cy="360.73" r="1.95" fill="#fff" stroke="#000" stroke-width="0.9"/>
<circle cx="474.40" cy="303.64" r="1.95" fill="#fff" stroke="#000" stroke-width="0.9"/>
<circle cx="587.40" cy="364.77" r="1.95" fill="#fff" stroke="#000" stroke-width="0.9"/>
<circle cx="474.40" cy="305.93" r="1.95" fill="#fff" stroke="#000" stroke-width="0.9"/>
<circle cx="587.40" cy="368.14" r="1.95" fill="#fff" stroke="#000" stroke-width="0.9"/>
<circle cx="474.40" cy="310.92" r="1.95" fill="#fff" stroke="#000" stroke-width="0.9"/>
<circle cx="587.40" cy="371.51" r="1.95" fill="#fff" stroke="#000" stroke-width="0.9"/>
<circle cx="474.40" cy="317.24" r="1.95" fill="#fff" stroke="#000" stroke-width="0.9"/>
<circle cx="587.40" cy="374.20" r="1.95" fill="#fff" stroke="#000" stroke-width="0.9"/>
<circle cx="474.40" cy="333.40" r="1.95" fill="#fff" stroke="#000" stroke-width="0.9"/>
<circle cx="587.40" cy="377.57" r="1.95" fill="#fff" stroke="#000" stroke-width="0.9"/>
<circle cx="474.40" cy="295.57" r="1.95" fill="#fff" stroke="#000" stroke-width="0.9"/>
<circle cx="587.40" cy="380.93" r="1.95" fill="#fff" stroke="#000" stroke-width="0.9"/>
<circle cx="474.40" cy="307.01" r="1.95" fill="#fff" stroke="#000" stroke-width="0.9"/>
<circle cx="587.40" cy="383.62" r="1.95" fill="#fff" stroke="#000" stroke-width="0.9"/>
<circle cx="474.40" cy="336.23" r="1.95" fill="#fff" stroke="#000" stroke-width="0.9"/>
<circle cx="587.40" cy="384.30" r="1.95" fill="#fff" stroke="#000" stroke-width="0.9"/>
<circle cx="474.40" cy="343.90" r="1.95" fill="#fff" stroke="#000" stroke-width="0.9"/>
<circle cx="587.40" cy="393.05" r="1.95" fill="#fff" stroke="#000" stroke-width="0.9"/>
<circle cx="474.40" cy="350.91" r="1.95" fill="#fff" stroke="#000" stroke-width="0.9"/>
<circle cx="587.40" cy="395.07" r="1.95" fill="#fff" stroke="#000" stroke-width="0.9"/>
<circle cx="474.40" cy="364.77" r="1.95" fill="#fff" stroke="#000" stroke-width="0.9"/>
<circle cx="587.40" cy="384.97" r="1.95" fill="#fff" stroke="#000" stroke-width="0.9"/>
<circle cx="474.40" cy="302.43" r="1.95" fill="#fff" stroke="#000" stroke-width="0.9"/>
<circle cx="587.40" cy="411.23" r="1.95" fill="#fff" stroke="#000" stroke-width="0.9"/>
<circle cx="474.40" cy="299.07" r="1.95" fill="#fff" stroke="#000" stroke-width="0.9"/>
<circle cx="587.40" cy="434.12" r="1.95" fill="#fff" stroke="#000" stroke-width="0.9"/>
<circle cx="474.40" cy="417.29" r="1.95" fill="#fff" stroke="#000" stroke-width="0.9"/>
<circle cx="587.40" cy="479.22" r="1.95" fill="#fff" stroke="#000" stroke-width="0.9"/>
<circle cx="474.40" cy="293.41" r="1.95" fill="#fff" stroke="#000" stroke-width="0.9"/>
<circle cx="587.40" cy="320.34" r="1.95" fill="#fff" stroke="#000" stroke-width="0.9"/>
<circle cx="474.40" cy="299.60" r="1.95" fill="#fff" stroke="#000" stroke-width="0.9"/>
<circle cx="587.40" cy="339.86" r="1.95" fill="#fff" stroke="#000" stroke-width="0.9"/>
<circle cx="474.40" cy="309.30" r="1.95" fill="#fff" stroke="#000" stroke-width="0.9"/>
<circle cx="587.40" cy="362.08" r="1.95" fill="#fff" stroke="#000" stroke-width="0.9"/>
<circle cx="474.40" cy="297.32" r="1.95" fill="#fff" stroke="#000" stroke-width="0.9"/>
<circle cx="587.40" cy="323.03" r="1.95" fill="#fff" stroke="#000" stroke-width="0.9"/>
<circle cx="474.40" cy="328.42" r="1.95" fill="#fff" stroke="#000" stroke-width="0.9"/>
<circle cx="587.40" cy="394.40" r="1.95" fill="#fff" stroke="#000" stroke-width="0.9"/>
<circle cx="474.40" cy="304.72" r="1.95" fill="#fff" stroke="#000" stroke-width="0.9"/>
<circle cx="587.40" cy="375.55" r="1.95" fill="#fff" stroke="#000" stroke-width="0.9"/>
<text transform="translate(183.30,16.50) rotate(0.05)" font-size="12" font-weight="normal" text-anchor="start" >a)</text>
<text transform="translate(524.00,19.00) rotate(0.05)" font-size="12" font-weight="normal" text-anchor="start" >b)</text>
<text transform="translate(92.50,46.30) rotate(0.05)" font-size="12" font-weight="bold" text-anchor="middle" >ReE</text>
<text transform="translate(93.70,59.00) rotate(0.05)" font-size="8.1" font-weight="normal" text-anchor="middle" >p&lt;0.05</text>
<text transform="translate(188.20,47.00) rotate(0.05)" font-size="12" font-weight="bold" text-anchor="middle" >ReI</text>
<text transform="translate(187.80,58.00) rotate(0.05)" font-size="8.1" font-weight="normal" text-anchor="middle" >p&lt;0.05</text>
<text transform="translate(289.80,45.60) rotate(0.05)" font-size="12" font-weight="bold" text-anchor="middle" >dR</text>
<text transform="translate(288.50,57.30) rotate(0.05)" font-size="8.1" font-weight="normal" text-anchor="middle" >p&lt;0.05</text>
<text transform="translate(525.60,52.80) rotate(0.05)" font-size="12.2" font-weight="bold" text-anchor="middle" >AXV</text>
<text transform="translate(525.60,62.70) rotate(0.05)" font-size="8.1" font-weight="normal" text-anchor="middle" >p&lt;0.05</text>
<text transform="translate(92.00,486.80) rotate(0.05)" font-size="8.1" font-weight="normal" text-anchor="middle" >p&lt;0.05</text>
<text transform="translate(91.70,502.80) rotate(0.05)" font-size="12" font-weight="bold" text-anchor="middle" >XeE</text>
<text transform="translate(192.70,486.90) rotate(0.05)" font-size="8.1" font-weight="normal" text-anchor="middle" >p&gt;0.05</text>
<text transform="translate(188.30,502.60) rotate(0.05)" font-size="12" font-weight="bold" text-anchor="middle" >XeI</text>
<text transform="translate(293.00,486.00) rotate(0.05)" font-size="8.1" font-weight="normal" text-anchor="middle" >p&lt;0.05</text>
<text transform="translate(289.90,502.50) rotate(0.05)" font-size="12" font-weight="bold" text-anchor="middle" >dX</text>
<text transform="translate(526.20,483.70) rotate(0.05)" font-size="8.1" font-weight="normal" text-anchor="middle" >p&lt;0.05</text>
<text transform="translate(526.30,500.00) rotate(0.05)" font-size="12.6" font-weight="bold" text-anchor="middle" >AXV'</text>
<text transform="translate(382.30,496.20) rotate(0.05)" font-size="8" font-weight="normal" text-anchor="start" >p</text>
<text transform="translate(71.50,264.50) rotate(0.05)" font-size="10.3" font-weight="bold" text-anchor="middle" >Sitting</text>
<text transform="translate(111.00,264.50) rotate(0.05)" font-size="10.3" font-weight="bold" text-anchor="middle" >Supine</text>
<text transform="translate(170.50,264.50) rotate(0.05)" font-size="10.3" font-weight="bold" text-anchor="middle" >Sitting</text>
<text transform="translate(209.90,264.50) rotate(0.05)" font-size="10.3" font-weight="bold" text-anchor="middle" >Supine</text>
<text transform="translate(270.50,264.50) rotate(0.05)" font-size="10.3" font-weight="bold" text-anchor="middle" >Sitting</text>
<text transform="translate(310.50,264.50) rotate(0.05)" font-size="10.3" font-weight="bold" text-anchor="middle" >Supine</text>
<text transform="translate(450.50,263.80) rotate(0.05)" font-size="10.3" font-weight="bold" text-anchor="middle" >Sitting</text>
<text transform="translate(605.00,263.80) rotate(0.05)" font-size="10.3" font-weight="bold" text-anchor="middle" >Supine</text>
<g transform="translate(13.4,170.2) rotate(-89.95)" class="yl">
<text x="0" y="0" font-size="11.6" font-weight="bold">R</text>
<text x="11.00" y="0" font-size="9">(</text>
<text x="14.80" y="0" font-size="9">c</text>
<text x="19.50" y="0" font-size="9">m</text>
<text x="26.30" y="0" font-size="9">H</text>
<text x="33.20" y="1.7" font-size="6.5">2</text>
<text x="36.90" y="0" font-size="9">O</text>
<text x="44.45" y="-5.3" font-size="9">.</text>
<text x="46.60" y="0" font-size="9">s</text>
<text x="53.25" y="-5.3" font-size="9">.</text>
<text x="55.50" y="0" font-size="9">L</text>
<text x="59.60" y="-2.6" font-size="7.5">−1</text>
<text x="69.00" y="0" font-size="9">)</text>
</g>
<g transform="translate(11.6,410.5) rotate(-89.95)" class="yl">
<text x="0" y="0" font-size="12.4" font-weight="bold">X</text>
<text x="11.50" y="-1.0" font-size="9">(</text>
<text x="15.30" y="-1.0" font-size="9">c</text>
<text x="20.00" y="-1.0" font-size="9">m</text>
<text x="26.80" y="-1.0" font-size="9">H</text>
<text x="33.70" y="0.7" font-size="6.5">2</text>
<text x="37.40" y="-1.0" font-size="9">O</text>
<text x="44.95" y="-6.3" font-size="9">.</text>
<text x="47.10" y="-1.0" font-size="9">s</text>
<text x="53.75" y="-6.3" font-size="9">.</text>
<text x="56.00" y="-1.0" font-size="9">L</text>
<text x="60.10" y="-3.6" font-size="7.5">−1</text>
<text x="69.50" y="-1.0" font-size="9">)</text>
</g>
<g transform="translate(368.3,178.0) rotate(-89.95)" class="yl">
<text x="0" y="0" font-size="12" font-weight="bold">AXV</text>
<text x="26.20" y="0" font-size="9">(</text>
<text x="30.03" y="0" font-size="9">c</text>
<text x="34.76" y="0" font-size="9">m</text>
<text x="41.61" y="0" font-size="9">H</text>
<text x="48.56" y="1.7" font-size="6.5">2</text>
<text x="52.28" y="0" font-size="9">O</text>
<text x="59.88" y="-5.3" font-size="9">.</text>
<text x="62.05" y="0" font-size="9">s</text>
<text x="68.75" y="-5.3" font-size="9">.</text>
<text x="71.01" y="0" font-size="9">L</text>
<text x="75.14" y="-2.6" font-size="7.5">−1</text>
<text x="84.61" y="0" font-size="9">)</text>
</g>
<g transform="translate(364.7,428.3) rotate(-89.95)" class="yl">
<text x="0" y="0" font-size="12" font-weight="bold">AXV'</text>
<text x="29.70" y="0" font-size="9">(</text>
<text x="33.50" y="0" font-size="9">c</text>
<text x="38.20" y="0" font-size="9">m</text>
<text x="45.00" y="0" font-size="9">H</text>
<text x="51.90" y="1.7" font-size="6.5">2</text>
<text x="55.60" y="0" font-size="9">O</text>
<text x="63.15" y="-5.3" font-size="9">.</text>
<text x="65.30" y="0" font-size="9">s</text>
<text x="71.95" y="-5.3" font-size="9">.</text>
<text x="74.20" y="0" font-size="9">L</text>
<text x="78.30" y="-2.6" font-size="7.5">−1</text>
<text x="87.70" y="0" font-size="9">)</text>
</g>
</svg>
</body></html>
